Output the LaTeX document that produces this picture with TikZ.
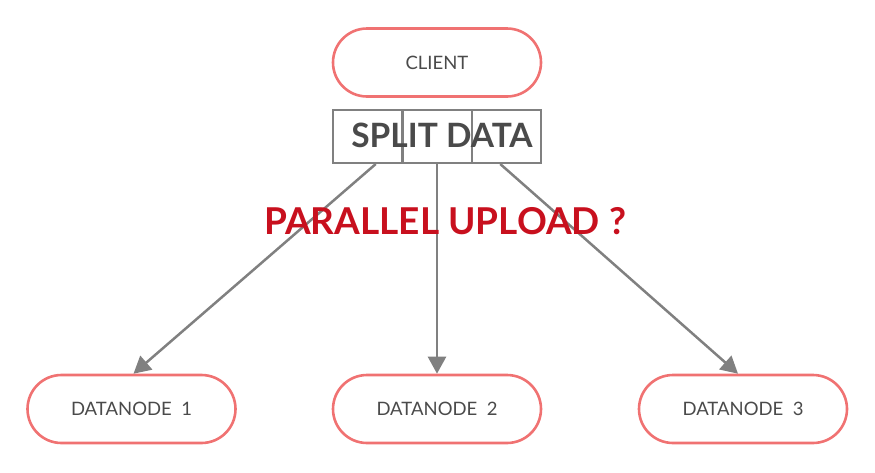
\documentclass[tikz,border=0pt]{standalone}
\usepackage{fontspec}
\setmainfont{Lato}
\usetikzlibrary{arrows.meta,calc}
\definecolor{pinkline}{HTML}{F07272}
\definecolor{txtgray}{HTML}{4A4A4A}
\definecolor{arrowgray}{HTML}{808080}
\definecolor{redtxt}{HTML}{C8101E}
\begin{document}
\begin{tikzpicture}[x=1pt,y=-1pt,
  pill/.style={draw=pinkline,line width=2.6pt,rounded corners=34pt,minimum width=208pt,minimum height=68pt,inner sep=0pt,text=txtgray,font=\fontsize{18.5}{20}\selectfont},
  cellbox/.style={draw=arrowgray,line width=2pt,minimum width=69.5pt,minimum height=53pt,inner sep=0pt},
  conn/.style={draw=arrowgray,line width=2.5pt,-{Triangle[length=17pt,width=18pt]}}]
\useasboundingbox (0,0) rectangle (875,472);
\node[pill] (client) at (437,62.5) {CLIENT};
\node[cellbox] (cell1) at (367.75,136.5) {};
\node[cellbox] (cell2) at (437,136.5) {};
\node[cellbox] (cell3) at (506.25,136.5) {};
\node[text=txtgray,font=\fontsize{33.5}{40}\selectfont\bfseries] (split) at (442,135) {SPLIT DATA};
\node[pill] (dn1) at (131.5,409) {DATANODE\ \ 1};
\node[pill] (dn2) at (437,409) {DATANODE\ \ 2};
\node[pill] (dn3) at (743,409) {DATANODE\ \ 3};
\draw[conn] ([xshift=8pt]cell1.south) -- ([xshift=2pt]dn1.north);
\draw[conn] (cell2.south) -- (dn2.north);
\draw[conn] ([xshift=-6pt]cell3.south) -- ([xshift=-5pt]dn3.north);
\node[text=redtxt,font=\fontsize{37}{40}\selectfont\bfseries] (par) at (445,221) {PARALLEL UPLOAD ?};
\end{tikzpicture}
\end{document}
